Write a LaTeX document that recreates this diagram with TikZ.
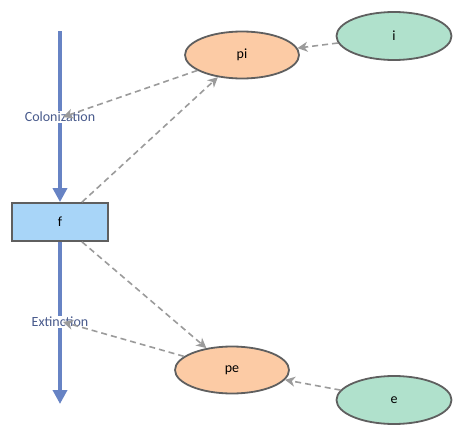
\documentclass[tikz,border=0pt]{standalone}
\usepackage{fontspec}
\setmainfont{Carlito}
\usepackage{tikz}
\usetikzlibrary{arrows.meta,shapes.geometric}
\definecolor{flowblue}{RGB}{103,131,196}
\definecolor{boxblue}{RGB}{168,213,248}
\definecolor{peach}{RGB}{252,203,165}
\definecolor{mint}{RGB}{176,225,204}
\definecolor{edgegray}{RGB}{95,95,95}
\definecolor{depgray}{RGB}{155,155,155}
\definecolor{labelblue}{RGB}{72,90,140}

\tikzset{
  every node/.style={font=\fontsize{14}{16}\selectfont},
  stock/.style={draw=edgegray, line width=1.8pt, fill=boxblue, minimum width=96pt, minimum height=38pt},
  aux/.style={ellipse, draw=edgegray, line width=1.8pt, fill=peach, minimum width=114pt, minimum height=47pt},
  param/.style={ellipse, draw=edgegray, line width=1.8pt, fill=mint, minimum width=115pt, minimum height=48pt},
  flowlabel/.style={fill=white, text=labelblue, inner sep=1pt},
  flow/.style={draw=flowblue, line width=4.5pt, -{Triangle[width=14pt,length=14pt]}},
  dep/.style={draw=depgray, line width=1.6pt, dash pattern=on 6pt off 4pt, -{Stealth[length=10pt,width=10pt,inset=3pt]}}
}

\begin{document}
\begin{tikzpicture}[x=1pt,y=-1pt]
  %%%%% START %%%%%
  \useasboundingbox (0,0) rectangle (464,434);

  \coordinate (top) at (60,31);
  \coordinate (bottom) at (60,404);

  \node[stock] (f) at (60,222) {f};

  \draw[flow] (top) -- (f.north);
  \draw[flow] (f.south) -- (bottom);

  \node[flowlabel] (col) at (60,117) {Colonization};
  \node[flowlabel] (ext) at (60,322) {Extinction};

  \node[aux] (pi) at (242,55) {pi};
  \node[aux] (pe) at (232,370) {pe};
  \node[param] (i) at (394,36) {i};
  \node[param] (e) at (394,400) {e};

  \draw[dep] (i) -- (pi);
  \draw[dep] (e) -- (pe);
  \draw[dep] (pi) -- ([xshift=3pt]col.center);
  \draw[dep] (pe) -- ([xshift=3pt]ext.center);
  \draw[dep] ([xshift=22pt]f.north) -- (pi);
  \draw[dep] ([xshift=22pt]f.south) -- (pe);

  %%%%% END %%%%%
\end{tikzpicture}
\end{document}
